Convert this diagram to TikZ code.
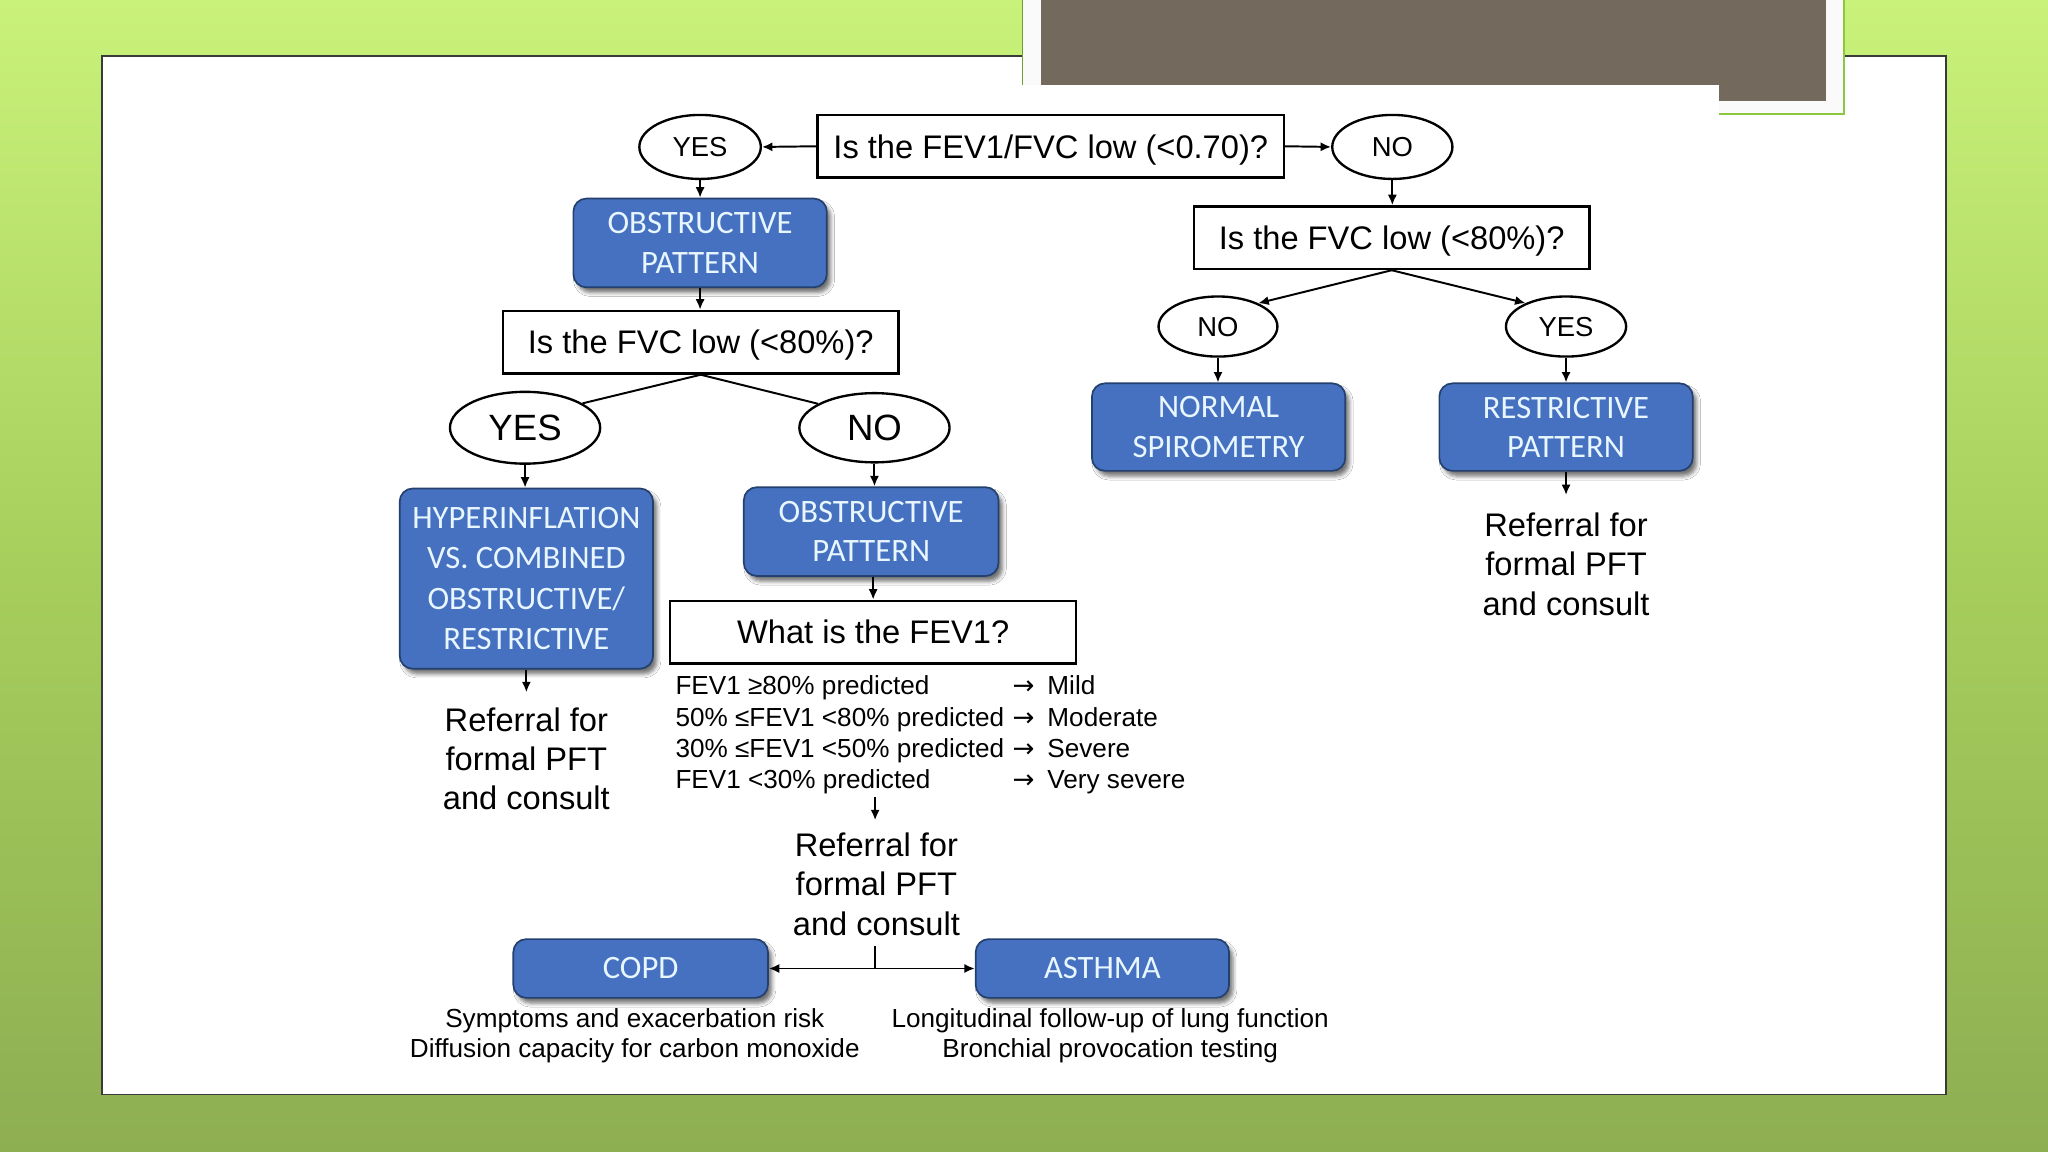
\documentclass[tikz,border=0pt]{standalone}
\usepackage{fontspec}
\setmainfont{Liberation Sans}
\newfontfamily\calibri{Carlito}
\newfontfamily\dejavu{DejaVu Sans}
\usetikzlibrary{shapes.geometric,arrows.meta,shadows.blur}
\definecolor{bgtop}{HTML}{C9F27A}
\definecolor{bgmid}{HTML}{A6CE5C}
\definecolor{bgbot}{HTML}{8EAE52}
\definecolor{brownbox}{HTML}{736A5D}
\definecolor{framegreen}{HTML}{8DC63F}
\definecolor{boxblue}{HTML}{4671C0}
\definecolor{boxborder}{HTML}{24406F}
\definecolor{boxtext}{HTML}{E8F6FF}
\definecolor{panelline}{HTML}{3A3A3A}
\tikzset{
  qbox/.style={draw, line width=1.8pt, fill=white, inner sep=0pt, minimum height=48pt,
    text height=18pt, text depth=0pt,
    font=\fontsize{25pt}{30pt}\selectfont},
  oval/.style={ellipse, draw, line width=1.8pt, fill=white, inner sep=0pt,
    text height=15pt, text depth=0pt,
    font=\fontsize{21pt}{25pt}\selectfont},
  bigoval/.style={ellipse, draw, line width=1.8pt, fill=white, inner sep=0pt,
    text height=20pt, text depth=0pt,
    minimum width=115pt, minimum height=55pt, font=\fontsize{28pt}{32pt}\selectfont},
  bluebox/.style={rounded corners=10pt, draw=boxborder, line width=1.3pt, fill=boxblue,
    text=boxtext, align=center, inner sep=0pt, minimum width=194pt,
    font=\calibri\fontsize{25pt}{30pt}\selectfont,
    blur shadow={shadow xshift=3pt, shadow yshift=-4pt, shadow blur radius=3pt, shadow opacity=55}},
  plaintext/.style={align=center, inner sep=0pt, font=\fontsize{25pt}{30pt}\selectfont},
  smalltext/.style={inner sep=0pt, font=\fontsize{20pt}{24pt}\selectfont},
  captext/.style={align=center, inner sep=0pt, font=\fontsize{20pt}{23pt}\selectfont},
  arr/.style={line width=1.5pt, -{Latex[length=8pt,width=7pt]}},
  link/.style={line width=1.5pt},
}
\newcommand{\sevarrow}{{\dejavu →}\hspace{10pt}}
\begin{document}
\begin{tikzpicture}[x=1pt,y=-1pt]
\useasboundingbox (0,0) rectangle (1568,882);
% background
\shade[top color=bgtop, bottom color=bgbot, middle color=bgmid] (0,0) rectangle (1568,882);
% panel
\fill[white] (78,43) rectangle (1490,838);
\draw[panelline, line width=1.3pt] (78,43) rectangle (1490,838);
% title frame
\fill[white!96!gray] (783,0) rectangle (1412,87);
\draw[framegreen, line width=1.6pt] (783,87) -- (1412,87) -- (1412,0);
\draw[framegreen!80!black, line width=1pt] (783,0) -- (783,65);
\fill[brownbox] (797,0) rectangle (1398,77);
\fill[white] (783,65) rectangle (1316,100);

% nodes
\node[qbox, minimum width=357pt] (q1) at (804.5,112) {Is the FEV1/FVC low (<0.70)?};
\node[oval, minimum width=93pt, minimum height=49pt] (yes1) at (536,112.5) {YES};
\node[oval, minimum width=92pt, minimum height=49pt] (no1) at (1066,112.5) {NO};
\node[bluebox, minimum height=68pt] (ob1) at (536,186) {OBSTRUCTIVE\\PATTERN};
\node[qbox, minimum width=303pt] (q2) at (536.5,262) {Is the FVC low (<80\%)?};
\node[bigoval] (yes2) at (402,327.5) {YES};
\node[bigoval, minimum height=53pt] (no2) at (669.5,327.5) {NO};
\node[bluebox, minimum height=138pt] (hyp) at (403,443) {HYPERINFLATION\\[1pt]VS. COMBINED\\[1pt]OBSTRUCTIVE/\\[1pt]RESTRICTIVE};
\node[bluebox, minimum width=195pt, minimum height=68pt] (ob2) at (667,407) {OBSTRUCTIVE\\PATTERN};
\node[qbox, minimum width=311pt] (q4) at (668.5,484) {What is the FEV1?};
\node[qbox, minimum width=303pt] (q3) at (1065.5,182) {Is the FVC low (<80\%)?};
\node[oval, minimum width=91pt, minimum height=46pt] (no3) at (932.5,250) {NO};
\node[oval, minimum width=92pt, minimum height=46pt] (yes3) at (1199,250) {YES};
\node[bluebox, minimum height=67pt] (norm) at (933,327) {NORMAL\\SPIROMETRY};
\node[bluebox, minimum height=67pt] (rp) at (1199,327) {RESTRICTIVE\\PATTERN};
\node[bluebox, minimum width=195pt, minimum height=45pt] (copd) at (490.5,741.5) {COPD};
\node[bluebox, minimum height=45pt] (asthma) at (844,741.5) {ASTHMA};

% referral texts
\node[plaintext] (ref1) at (403,581) {Referral for\\formal PFT\\and consult};
\node[plaintext] (ref2) at (671,677) {Referral for\\formal PFT\\and consult};
\node[plaintext] (ref3) at (1199,432) {Referral for\\formal PFT\\and consult};

% FEV1 table
\node[smalltext, anchor=base west] (t1) at (517,532) {FEV1 ≥80\% predicted};
\node[smalltext, anchor=base west] (t2) at (517,556) {50\% ≤FEV1 <80\% predicted};
\node[smalltext, anchor=base west] (t3) at (517,580) {30\% ≤FEV1 <50\% predicted};
\node[smalltext, anchor=base west] (t4) at (517,604) {FEV1 <30\% predicted};
\node[smalltext, anchor=base west] (s1) at (775,532) {\sevarrow Mild};
\node[smalltext, anchor=base west] (s2) at (775,556) {\sevarrow Moderate};
\node[smalltext, anchor=base west] (s3) at (775,580) {\sevarrow Severe};
\node[smalltext, anchor=base west] (s4) at (775,604) {\sevarrow Very severe};

% captions
\node[captext] (cap1) at (486,793) {Symptoms and exacerbation risk\\Diffusion capacity for carbon monoxide};
\node[captext] (cap2) at (850,793) {Longitudinal follow-up of lung function\\Bronchial provocation testing};

% free-end coordinates
\coordinate (e1) at (403,530);
\coordinate (e2top) at (670,610);
\coordinate (e2) at (670,628);
\coordinate (e3) at (1199,379);
\coordinate (jtop) at (670,724);
\coordinate (junc) at (670,741.5);

% connectors
\draw[arr] (q1.west) -- (yes1.east);
\draw[arr] (q1.east) -- (no1.west);
\draw[arr] (yes1.south) -- (ob1.north);
\draw[arr] (ob1.south) -- (ob1.south |- q2.north);
\draw[link] (q2.south) -- (yes2.23);
\draw[link] (q2.south) -- (no2.157);
\draw[arr] (yes2.south) -- (yes2.south |- hyp.north);
\draw[arr] (no2.south) -- (no2.south |- ob2.north);
\draw[arr] (ob2.south -| q4.north) -- (q4.north);
\draw[arr] (hyp.south) -- (e1);
\draw[arr] (e2top) -- (e2);
\draw[arr] (no1.south) -- (no1.south |- q3.north);
\draw[arr] (q3.south) -- (no3.30);
\draw[arr] (q3.south) -- (yes3.150);
\draw[arr] (no3.south) -- (no3.south |- norm.north);
\draw[arr] (yes3.south) -- (yes3.south |- rp.north);
\draw[arr] (rp.south) -- (e3);
\draw[link] (jtop) -- (junc);
\draw[arr] (junc) -- (copd.east);
\draw[arr] (junc) -- (asthma.west);
\end{tikzpicture}
\end{document}
